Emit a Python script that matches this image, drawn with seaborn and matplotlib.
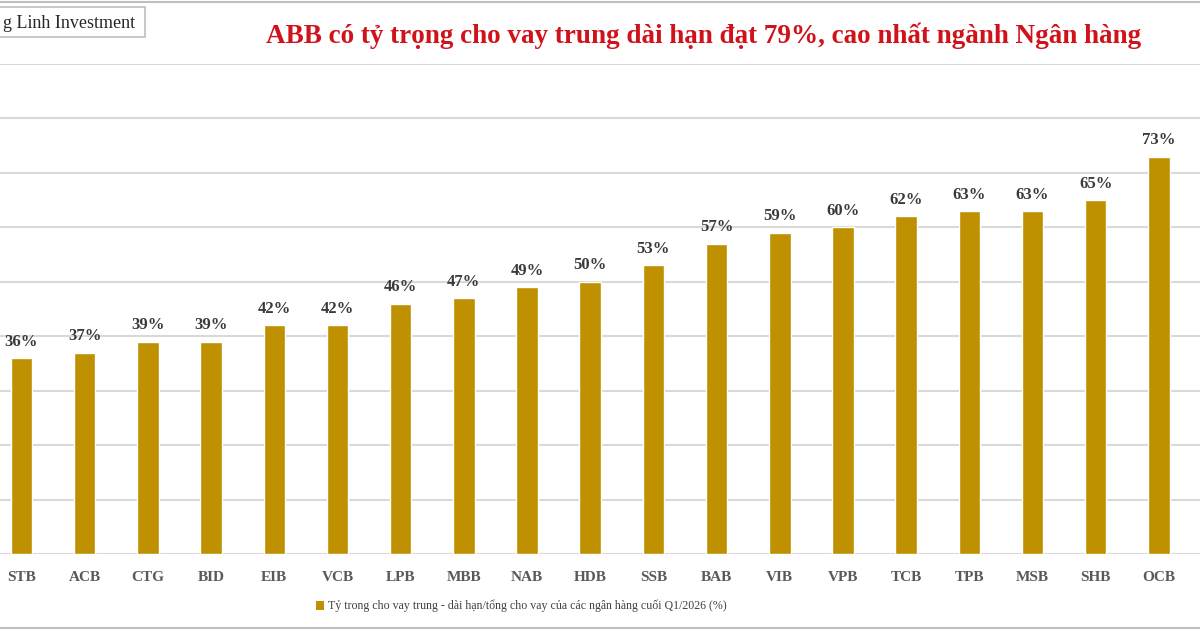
import matplotlib
matplotlib.use("Agg")
from matplotlib import pyplot as plt
from matplotlib.patches import Rectangle
from matplotlib.lines import Line2D
import pandas as pd
import seaborn as sns

# dữ liệu
banks = ["STB", "ACB", "CTG", "BID", "EIB", "VCB", "LPB", "MBB", "NAB", "HDB",
         "SSB", "BAB", "VIB", "VPB", "TCB", "TPB", "MSB", "SHB", "OCB"]
ratios = [36, 37, 39, 39, 42, 42, 46, 47, 49, 50,
          53, 57, 59, 60, 62, 63, 63, 65, 73]
title = "ABB có tỷ trọng cho vay trung dài hạn đạt 79%, cao nhất ngành Ngân hàng"
legend_label = "Tỷ trong cho vay trung - dài hạn/tổng cho vay của các ngân hàng cuối Q1/2026 (%)"
source = "g Linh Investment"

gold = "#BF9000"
grid_c = "#D9D9D9"

sns.set_theme(style="white")
plt.rcParams['font.family'] = ['Liberation Serif', 'DejaVu Serif']

df = pd.DataFrame({"bank": banks, "ratio": ratios})

fig = plt.figure(figsize=(12, 6.3), dpi=100)
ax = fig.add_axes([0, 76 / 630, 1, 490 / 630])

sns.barplot(data=df, x="bank", y="ratio", color=gold, width=0.34,
            saturation=1, ax=ax, zorder=3)

ax.set_ylim(0, 90)
ax.set_xlim(-0.34, 18.65)
ax.set_yticks(range(0, 91, 10))
ax.yaxis.grid(True, color=grid_c, linewidth=1.5, zorder=0)
ax.set_yticklabels([])
ax.tick_params(axis="y", length=0)
ax.tick_params(axis="x", length=0, pad=12)
for s in ax.spines.values():
    s.set_visible(False)
ax.set_xlabel("")
ax.set_ylabel("")
for lab in ax.get_xticklabels():
    lab.set_fontsize(11)
    lab.set_fontweight("bold")
    lab.set_color("#595959")

# nhãn giá trị
for i, v in enumerate(ratios):
    ax.annotate(f"{v}%", (i, v), xytext=(0, 6), textcoords="offset points",
                ha="center", va="bottom", fontsize=12, fontweight="bold",
                color="#3A3A3A")

# tiêu đề
fig.text(704 / 1200, 1 - 36 / 630, title, ha="center", va="center",
         fontsize=19.5, fontweight="bold", color="#D0121B")

# hộp nguồn
fig.patches.append(Rectangle((-0.01, 1 - 37 / 630), 0.01 + 145 / 1200, 30 / 630,
                             transform=fig.transFigure, facecolor="white",
                             edgecolor="#BFBFBF", linewidth=1.2))
fig.text(3 / 1200, 1 - 23 / 630, source, ha="left", va="center",
         fontsize=13, color="#262626")

# chú thích
handle = Rectangle((0, 0), 1, 1, facecolor=gold, edgecolor="none")
fig.legend([handle], [legend_label], loc="center", bbox_to_anchor=(521 / 1200, 1 - 606 / 630),
           frameon=False, fontsize=8.6, handlelength=0.7, handleheight=0.8,
           handletextpad=0.3, labelcolor="#404040")

# viền khung
for yy in (1 - 2 / 630, 1 - 628 / 630):
    fig.add_artist(Line2D([0, 1], [yy, yy], transform=fig.transFigure,
                          color="#BFBFBF", linewidth=1.5))

fig.savefig("out.png", dpi=100)
